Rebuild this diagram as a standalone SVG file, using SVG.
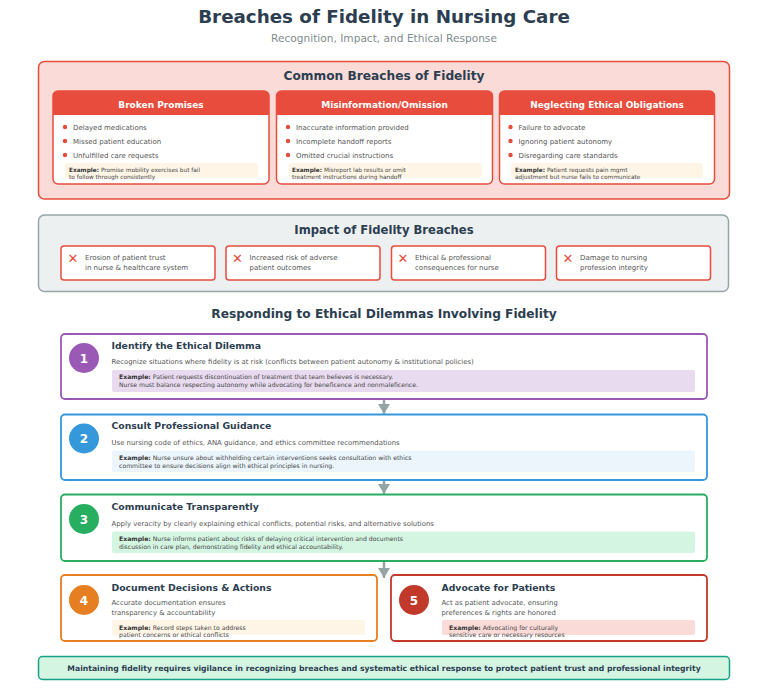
<svg xmlns="http://www.w3.org/2000/svg" width="768" height="691" viewBox="0 0 768 691">
<defs>
<style>
text{font-family:"DejaVu Sans","Liberation Sans",sans-serif}
.h1{font-size:18.3px;font-weight:bold;fill:#2c3e50;text-anchor:middle}
.sub{font-size:10.6px;fill:#7f8c8d;text-anchor:middle}
.sec{font-size:12.2px;font-weight:bold;fill:#2c3e50;text-anchor:middle}
.card{fill:#fff;stroke:#e74c3c;stroke-width:1.5}
.chead{fill:#e74c3c}
.ctitle{font-size:9px;font-weight:bold;fill:#fff;text-anchor:middle}
.bul{fill:#e74c3c}
.btxt{font-size:7px;fill:#555}
.exbox{fill:#fef5e7}
.ex{font-size:5.8px;fill:#444}
.sex{font-size:6.15px;fill:#444}
.exb{font-weight:bold;fill:#333}
.imp{fill:#fff;stroke:#e74c3c;stroke-width:1.5}
.x{font-size:13px;font-weight:bold;fill:#e74c3c;text-anchor:middle}
.itxt{font-size:7px;fill:#555}
.step{fill:#fff;stroke-width:1.8}
.num{font-size:12px;font-weight:bold;fill:#fff;text-anchor:middle}
.stitle{font-size:9.3px;font-weight:bold;fill:#2c3e50}
.sdesc{font-size:6.9px;fill:#555}
.conn{stroke:#95a5a6;stroke-width:2.5;fill:none}
.foot{font-size:7.7px;font-weight:bold;fill:#2c3e50;text-anchor:middle}
</style>
<marker id="arr" viewBox="0 0 10 12" refX="10" refY="6" markerWidth="10" markerHeight="12" markerUnits="userSpaceOnUse" orient="auto">
<path d="M0,0 L10,6 L0,12 z" fill="#95a5a6"/>
</marker>
</defs>
<rect x="0" y="0" width="768" height="691" fill="#fff"/>

<g id="header">
<text class="h1" x="384" y="23">Breaches of Fidelity in Nursing Care</text>
<text class="sub" x="384" y="42">Recognition, Impact, and Ethical Response</text>
</g>

<g id="common-breaches">
<rect x="38.5" y="61.5" width="691" height="137.5" rx="6" fill="#fadbd8" stroke="#e74c3c" stroke-width="1.5"/>
<text class="sec" x="384" y="80">Common Breaches of Fidelity</text>
</g>

<g id="card-broken-promises">
<rect class="card" x="53" y="91" width="216" height="93" rx="5"/>
<path class="chead" d="M53,96 a5,5 0 0 1 5,-5 h206 a5,5 0 0 1 5,5 v19 h-216 z"/>
<text class="ctitle" x="161" y="108">Broken Promises</text>
<circle class="bul" cx="65" cy="127" r="2.2"/><text class="btxt" x="73" y="129.5">Delayed medications</text>
<circle class="bul" cx="65" cy="141" r="2.2"/><text class="btxt" x="73" y="143.5">Missed patient education</text>
<circle class="bul" cx="65" cy="155" r="2.2"/><text class="btxt" x="73" y="157.5">Unfulfilled care requests</text>
<rect class="exbox" x="65" y="163" width="193" height="15" rx="2"/>
<text class="ex" x="69" y="172"><tspan class="exb">Example:</tspan> Promise mobility exercises but fail</text>
<text class="ex" x="69" y="179">to follow through consistently</text>
</g>

<g id="card-misinformation">
<rect class="card" x="276.5" y="91" width="216" height="93" rx="5"/>
<path class="chead" d="M276.5,96 a5,5 0 0 1 5,-5 h206 a5,5 0 0 1 5,5 v19 h-216 z"/>
<text class="ctitle" x="384.5" y="108">Misinformation/Omission</text>
<circle class="bul" cx="288" cy="127" r="2.2"/><text class="btxt" x="296" y="129.5">Inaccurate information provided</text>
<circle class="bul" cx="288" cy="141" r="2.2"/><text class="btxt" x="296" y="143.5">Incomplete handoff reports</text>
<circle class="bul" cx="288" cy="155" r="2.2"/><text class="btxt" x="296" y="157.5">Omitted crucial instructions</text>
<rect class="exbox" x="288.5" y="163" width="193" height="15" rx="2"/>
<text class="ex" x="292" y="172"><tspan class="exb">Example:</tspan> Misreport lab results or omit</text>
<text class="ex" x="292" y="179">treatment instructions during handoff</text>
</g>

<g id="card-neglecting">
<rect class="card" x="499.5" y="91" width="215" height="93" rx="5"/>
<path class="chead" d="M499.5,96 a5,5 0 0 1 5,-5 h205 a5,5 0 0 1 5,5 v19 h-215 z"/>
<text class="ctitle" x="607" y="108">Neglecting Ethical Obligations</text>
<circle class="bul" cx="510.5" cy="127" r="2.2"/><text class="btxt" x="518.5" y="129.5">Failure to advocate</text>
<circle class="bul" cx="510.5" cy="141" r="2.2"/><text class="btxt" x="518.5" y="143.5">Ignoring patient autonomy</text>
<circle class="bul" cx="510.5" cy="155" r="2.2"/><text class="btxt" x="518.5" y="157.5">Disregarding care standards</text>
<rect class="exbox" x="511" y="163" width="192" height="15" rx="2"/>
<text class="ex" x="515" y="172"><tspan class="exb">Example:</tspan> Patient requests pain mgmt</text>
<text class="ex" x="515" y="179">adjustment but nurse fails to communicate</text>
</g>

<g id="impact">
<rect x="38.5" y="215" width="690" height="76.5" rx="6" fill="#ecf0f1" stroke="#95a5a6" stroke-width="1.5"/>
<text class="sec" x="384" y="234" style="font-size:11.6px">Impact of Fidelity Breaches</text>
</g>
<g id="impact-trust">
<rect class="imp" x="61" y="246" width="154" height="34" rx="3"/>
<text class="x" x="73" y="262.5">✕</text>
<text class="itxt" x="85" y="260">Erosion of patient trust</text>
<text class="itxt" x="85" y="270">in nurse &amp; healthcare system</text>
</g>
<g id="impact-risk">
<rect class="imp" x="226" y="246" width="154" height="34" rx="3"/>
<text class="x" x="237.5" y="262.5">✕</text>
<text class="itxt" x="249.5" y="260">Increased risk of adverse</text>
<text class="itxt" x="249.5" y="270">patient outcomes</text>
</g>
<g id="impact-consequences">
<rect class="imp" x="391.5" y="246" width="154" height="34" rx="3"/>
<text class="x" x="403" y="262.5">✕</text>
<text class="itxt" x="415" y="260">Ethical &amp; professional</text>
<text class="itxt" x="415" y="270">consequences for nurse</text>
</g>
<g id="impact-damage">
<rect class="imp" x="556.5" y="246" width="154" height="34" rx="3"/>
<text class="x" x="568" y="262.5">✕</text>
<text class="itxt" x="580" y="260">Damage to nursing</text>
<text class="itxt" x="580" y="270">profession integrity</text>
</g>

<g id="responding-title">
<text class="sec" x="384" y="318">Responding to Ethical Dilemmas Involving Fidelity</text>
</g>

<g id="connectors">
<line id="c1-2" class="conn" x1="384" y1="399" x2="384" y2="414" marker-end="url(#arr)"/>
<line id="c2-3" class="conn" x1="384" y1="480" x2="384" y2="494" marker-end="url(#arr)"/>
<line id="c3-45" class="conn" x1="384" y1="561" x2="384" y2="578" marker-end="url(#arr)"/>
</g>

<g id="step1">
<rect class="step" x="61" y="334" width="646" height="65" rx="4" stroke="#9b59b6"/>
<circle cx="84" cy="358" r="15" fill="#9b59b6"/>
<text class="num" x="84" y="362.5">1</text>
<text class="stitle" x="111.5" y="349">Identify the Ethical Dilemma</text>
<text class="sdesc" x="111.5" y="364">Recognize situations where fidelity is at risk (conflicts between patient autonomy &amp; institutional policies)</text>
<rect x="112" y="370" width="583" height="22" rx="2" fill="#e8daef"/>
<text class="sex" x="119" y="379"><tspan class="exb">Example:</tspan> Patient requests discontinuation of treatment that team believes is necessary.</text>
<text class="sex" x="119" y="387">Nurse must balance respecting autonomy while advocating for beneficence and nonmaleficence.</text>
</g>

<g id="step2">
<rect class="step" x="61" y="414.5" width="646" height="65.5" rx="4" stroke="#3498db"/>
<circle cx="84" cy="438.5" r="15" fill="#3498db"/>
<text class="num" x="84" y="443">2</text>
<text class="stitle" x="111.5" y="429">Consult Professional Guidance</text>
<text class="sdesc" x="111.5" y="444.5">Use nursing code of ethics, ANA guidance, and ethics committee recommendations</text>
<rect x="112" y="450.5" width="583" height="21.5" rx="2" fill="#ebf5fb"/>
<text class="sex" x="119" y="459.5"><tspan class="exb">Example:</tspan> Nurse unsure about withholding certain interventions seeks consultation with ethics</text>
<text class="sex" x="119" y="467.5">committee to ensure decisions align with ethical principles in nursing.</text>
</g>

<g id="step3">
<rect class="step" x="61" y="494.5" width="646" height="66.5" rx="4" stroke="#27ae60"/>
<circle cx="84" cy="519" r="15" fill="#27ae60"/>
<text class="num" x="84" y="523.5">3</text>
<text class="stitle" x="111.5" y="510">Communicate Transparently</text>
<text class="sdesc" x="111.5" y="525.5">Apply veracity by clearly explaining ethical conflicts, potential risks, and alternative solutions</text>
<rect x="112" y="531.5" width="583" height="21.5" rx="2" fill="#d5f5e3"/>
<text class="sex" x="119" y="540.5"><tspan class="exb">Example:</tspan> Nurse informs patient about risks of delaying critical intervention and documents</text>
<text class="sex" x="119" y="548.5">discussion in care plan, demonstrating fidelity and ethical accountability.</text>
</g>

<g id="step4">
<rect class="step" x="61" y="575" width="316" height="66" rx="4" stroke="#e67e22"/>
<circle cx="84" cy="600" r="15" fill="#e67e22"/>
<text class="num" x="84" y="604.5">4</text>
<text class="stitle" x="111.5" y="591">Document Decisions &amp; Actions</text>
<text class="sdesc" x="111.5" y="605">Accurate documentation ensures</text>
<text class="sdesc" x="111.5" y="615">transparency &amp; accountability</text>
<rect x="112" y="620" width="253" height="15" rx="2" fill="#fef5e7"/>
<text class="sex" x="119" y="629.5"><tspan class="exb">Example:</tspan> Record steps taken to address</text>
<text class="sex" x="119" y="637">patient concerns or ethical conflicts</text>
</g>

<g id="step5">
<rect class="step" x="391" y="575" width="316" height="66" rx="4" stroke="#c0392b"/>
<circle cx="414" cy="600" r="15" fill="#c0392b"/>
<text class="num" x="414" y="604.5">5</text>
<text class="stitle" x="441.5" y="591">Advocate for Patients</text>
<text class="sdesc" x="441.5" y="605">Act as patient advocate, ensuring</text>
<text class="sdesc" x="441.5" y="615">preferences &amp; rights are honored</text>
<rect x="442" y="620" width="253" height="15" rx="2" fill="#fadbd8"/>
<text class="sex" x="449" y="629.5"><tspan class="exb">Example:</tspan> Advocating for culturally</text>
<text class="sex" x="449" y="637">sensitive care or necessary resources</text>
</g>

<g id="footer">
<rect x="38.5" y="656.5" width="691" height="23" rx="4" fill="#d5f5e3" stroke="#16a085" stroke-width="1.5"/>
<text class="foot" x="384" y="671">Maintaining fidelity requires vigilance in recognizing breaches and systematic ethical response to protect patient trust and professional integrity</text>
</g>
</svg>
